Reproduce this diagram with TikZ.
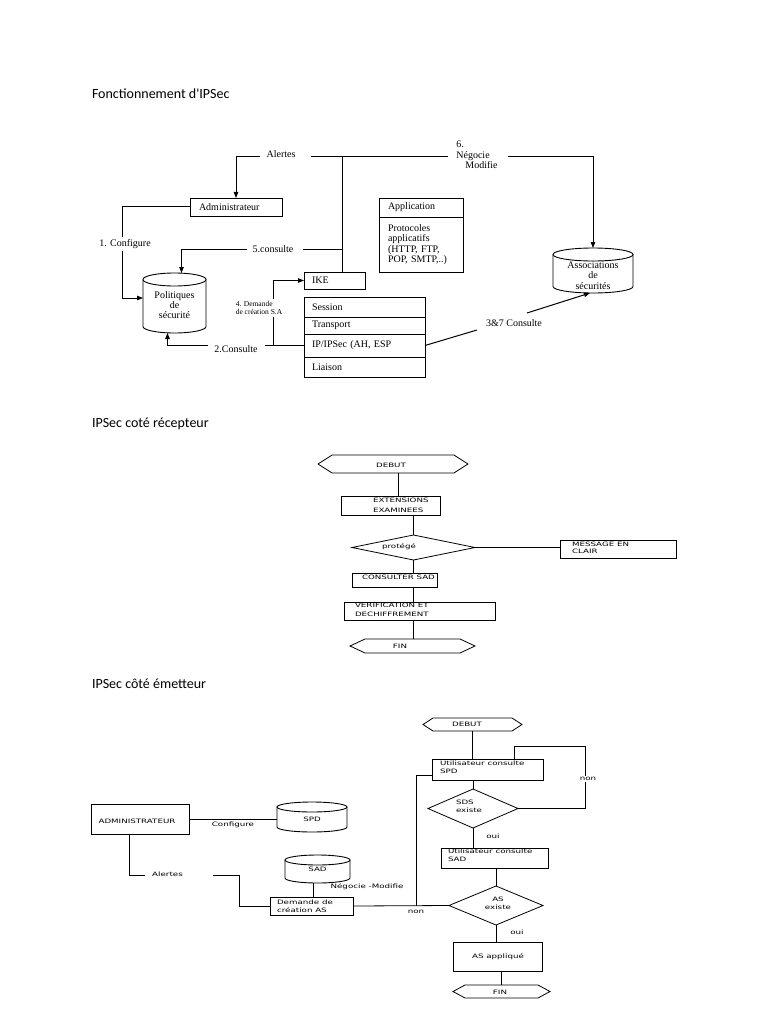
\documentclass[tikz,border=0pt]{standalone}
\usepackage{fontspec}
\setmainfont{Liberation Serif}
\newfontfamily\headfont{Carlito}
\newfontfamily\flowfont{DejaVu Sans}[FakeStretch=1.45]
\usetikzlibrary{arrows.meta,shapes.geometric,shapes.symbols,backgrounds}
\tikzset{
  every node/.style={inner sep=0pt, outer sep=0pt},
  ln/.style={line width=1pt},
  arr/.style={line width=1pt, -{Triangle[length=6pt,width=4.5pt]}},
  fln/.style={line width=0.8pt},
  cyl/.style={line width=0.9pt},
  bx/.style={draw, line width=0.9pt, anchor=north west, align=left},
  sf/.style={font=\fontsize{10}{10.3}\selectfont},
  small/.style={font=\fontsize{7.5}{8.5}\selectfont},
  lbl/.style={fill=white, inner sep=2pt},
  fl/.style={font=\flowfont\fontsize{6}{#1}\selectfont, align=left},
  fl/.default=8,
  fbox/.style={draw, line width=0.8pt, anchor=north west},
  fhex/.style={draw, line width=0.8pt, signal, signal to=west and east, anchor=center},
  fdia/.style={draw, line width=0.8pt, diamond, anchor=center},
  head/.style={font=\headfont\fontsize{14}{16}\selectfont, anchor=base west},
}
% #1 name, #2 x1, #3 y1, #4 x2, #5 y2, #6 ry, #7 text shift, #8 text style, #9 text
\newcommand\dbcyl[9]{%
  \node[anchor=north west, minimum width={(#4-#2)*1pt}, minimum height={(#5-#3)*1pt}] (#1) at (#2,#3) {};
  \node[align=center, #8] (#1-t) at ([yshift=#7]#1.center) {#9};
  \draw[cyl] (#2,#3+#6) -- (#2,#5-#6) arc[start angle=180, end angle=360, x radius={(#4-#2)/2*1pt}, y radius=#6pt] -- (#4,#3+#6);
  \draw[cyl] ({(#2+#4)/2},#3+#6) ellipse[x radius={(#4-#2)/2*1pt}, y radius=#6pt];
}
\begin{document}
\begin{tikzpicture}[x=1pt, y=-1pt]
\useasboundingbox (0,0) rectangle (768,1024);

% ---------- headings ----------
\node[head] (h1) at (92,99) {Fonctionnement d'IPSec};
\node[head] (h2) at (92,427) {IPSec coté récepteur};
\node[head] (h3) at (92,688) {IPSec côté émetteur};

% ---------- diagram 1 ----------
\node[bx, sf, minimum width=92pt, minimum height=18pt, inner xsep=9pt, text width=74pt] (admin) at (190,198) {Administrateur};
\node[bx, sf, minimum width=61pt, minimum height=17pt, inner xsep=8pt, text width=45pt] (ike) at (304,272) {IKE};
\node[bx, sf, minimum width=121pt, minimum height=20pt, inner xsep=8pt, text width=105pt] (sess) at (304,297) {Session};
\node[bx, sf, minimum width=121pt, minimum height=17pt, inner xsep=8pt, text width=105pt] (trans) at (304,317) {Transport};
\node[bx, sf, minimum width=121pt, minimum height=23pt, inner xsep=8pt, text width=105pt] (ip) at (304,334) {IP/IPSec (AH, ESP};
\node[bx, sf, minimum width=121pt, minimum height=20pt, inner xsep=8pt, text width=105pt] (liais) at (304,357) {Liaison};
\node[bx, sf, minimum width=84pt, minimum height=19pt, inner xsep=9pt, text width=66pt] (apph) at (379,198) {Application};
\node[bx, sf, minimum width=84pt, minimum height=55pt, inner xsep=9pt, text width=66pt] (appb) at (379,217) {Protocoles\\applicatifs\\(HTTP, FTP,\\POP, SMTP,..)};
\dbcyl{pol}{143}{273}{206}{333}{6.5}{-2pt}{sf}{Politiques\\de\\sécurité}
\dbcyl{assoc}{553}{248}{633}{293}{6.5}{-5pt}{sf}{Associations\\de\\sécurités}

\node[sf] (lalert) at (281,154) {Alertes};
\node[sf, lbl] (lconf) at (125,244) {1. Configure};
\node[sf] (l5) at (273,249) {5.consulte};
\node[sf] (l2) at (236,349) {2.Consulte};
\node[small, lbl, align=left] (l4) at (259,308) {4. Demande\\de création S.A};
\node[sf, align=left] (l6) at (477,155) {6.\\Négocie\\\hspace*{9pt}Modifie};
\node[sf] (l37) at (514,323) {3\&7 Consulte};

\coordinate (vx) at (342,0);
\coordinate (tA) at (236,157);
\coordinate (gA) at (260,157);
\coordinate (gB) at (311,157);
\coordinate (g6a) at (448,157);
\coordinate (g6b) at (508,157);
\coordinate (g5a) at (303,249);
\coordinate (g5b) at (247,249);
\coordinate (g2a) at (265,0);
\coordinate (g2b) at (208,0);
\coordinate (x4) at (273,0);
\coordinate (g37a) at (477,330);
\coordinate (g37b) at (527,313);

% ---------- diagram 2 ----------
\node[fhex, signal pointer angle=65, minimum width=150pt, minimum height=18pt] (deb1) at (393,464) {};
\node[fl] (tdeb1) at (391,465) {DEBUT};
\node[fbox, minimum width=99pt, minimum height=19pt] (ext) at (341,496) {};
\node[fl=10, anchor=west] (text) at (373,505.5) {EXTENSIONS\\EXAMINEES};
\node[fdia, minimum width=123pt, minimum height=25pt] (prot) at (413.5,547.5) {};
\node[fl] (tprot) at (399,547) {protégé};
\node[fbox, minimum width=116pt, minimum height=18pt] (msg) at (560,540) {};
\node[fl=7, anchor=west] (tmsg) at (572,547.5) {MESSAGE EN\\CLAIR};
\node[fbox, minimum width=85pt, minimum height=14pt] (cons) at (352,573) {};
\node[fl, anchor=west] (tcons) at (362,577.5) {CONSULTER SAD};
\node[fbox, minimum width=151pt, minimum height=18pt] (verif) at (344,602) {};
\node[fl=9, anchor=west] (tverif) at (355,609.5) {VERIFICATION ET\\DECHIFFREMENT};
\node[fhex, signal pointer angle=50, minimum width=125pt, minimum height=14pt] (fin1) at (412.5,646) {};
\node[fl] (tfin1) at (400,646) {FIN};
\coordinate (m1) at (398,0);

% ---------- diagram 3 ----------
\node[fhex, signal pointer angle=66, minimum width=99pt, minimum height=13pt] (deb2) at (472.5,724.5) {};
\node[fl] (tdeb2) at (467,724.5) {DEBUT};
\node[fbox, minimum width=111pt, minimum height=21pt] (ucspd) at (432,759) {};
\node[fl=8.5, anchor=west] (tucspd) at (440,767.5) {Utilisateur consulte\\SPD};
\node[fdia, minimum width=90pt, minimum height=39pt] (sds) at (473,808.5) {};
\node[fl=7.5, anchor=west] (tsds) at (456,806.5) {SDS\\existe};
\node[fbox, minimum width=107pt, minimum height=20pt] (ucsad) at (441,848) {};
\node[fl, anchor=west] (tucsad) at (448,855) {Utilisateur consulte\\SAD};
\node[fdia, minimum width=94pt, minimum height=39pt] (asx) at (496,905.5) {};
\node[fl, align=center] (tasx) at (498,903) {AS\\existe};
\node[fbox, minimum width=89pt, minimum height=29pt] (asap) at (453,942) {};
\node[fl] (tasap) at (498,957) {AS appliqué};
\node[fhex, signal pointer angle=57, minimum width=97pt, minimum height=13pt] (fin2) at (501.5,991.5) {};
\node[fl] (tfin2) at (500,992) {FIN};
\node[fbox, minimum width=98pt, minimum height=30pt] (admin2) at (91,804) {};
\node[fl] (tadmin2) at (137,821) {ADMINISTRATEUR};
\dbcyl{spd}{277}{802}{347}{832}{5}{-2pt}{fl}{SPD}
\dbcyl{sad}{285}{855}{350}{883}{5}{0pt}{fl}{SAD}
\node[fbox, minimum width=83pt, minimum height=18pt] (dem) at (270,897) {};
\node[fl, anchor=west] (tdem) at (277,906) {Demande de\\création AS};
\node[fl] (lconf2) at (233,825) {Configure};
\node[fl] (lneg) at (367,887) {Négocie -Modifie};
\node[fl] (lal2) at (167.5,874) {Alertes};
\node[fl, fill=white, inner sep=1.5pt] (lnon1) at (588,779) {non};
\node[fl] (loui1) at (493,836) {oui};
\node[fl] (lnon2) at (416,912) {non};
\node[fl] (loui2) at (517,932) {oui};
\coordinate (n1) at (585,746);
\coordinate (n2) at (514,746);
\coordinate (l1) at (416,0);
\coordinate (a1) at (129,875);
\coordinate (ga1) at (145,875);
\coordinate (ga2) at (213,875);
\coordinate (a2) at (239,875);
\coordinate (x313) at (313,0);

\begin{scope}[on background layer]
  % diagram 1 connectors
  \draw[ln] (ike.north -| vx) |- (gB);
  \draw[arr] (gA) -- (tA) -- (admin.north);
  \draw[ln] (ike.north -| vx) |- (g6a);
  \draw[arr] (g6b) -| (assoc.north);
  \draw[ln] (vx |- g5a) -- (g5a);
  \draw[arr] (g5b) -| ([xshift=7pt]pol.north);
  \draw[arr] (admin.west) -- ++(-68,0) |- ([yshift=5pt]pol.west);
  \draw[ln] (ip.west) -- (ip.west -| g2a);
  \draw[arr] (ip.west -| g2b) -| ([xshift=-7pt]pol.south);
  \draw[arr] (ip.west -| x4) |- (ike.west);
  \draw[ln] (ip.east) -- (g37a);
  \draw[arr] (g37b) -- ([xshift=-3pt]assoc.south);
  % diagram 2 connectors
  \draw[fln] (deb1.south -| m1) -- (ext.north -| m1);
  \draw[fln] (ext.south -| prot.north) -- (prot.north);
  \draw[fln] (prot.east) -- (prot.east -| msg.west);
  \draw[fln] (prot.south) -- (prot.south |- cons.north);
  \draw[fln] (cons.south -| prot.south) -- (verif.north -| prot.south);
  \draw[fln] (verif.south -| prot.south) -- (fin1.north -| prot.south);
  % diagram 3 connectors
  \draw[fln] (deb2.south) -- (deb2.south |- ucspd.north);
  \draw[fln] (ucspd.south -| sds.north) -- (sds.north);
  \draw[fln] (sds.south) -- (sds.south |- ucsad.north);
  \draw[fln] (asx.north |- ucsad.south) -- (asx.north);
  \draw[fln] (asx.south) -- (asx.south |- asap.north);
  \draw[fln] (fin2.north |- asap.south) -- (fin2.north);
  \draw[fln] (sds.east) -| (n1) -- (n2) -- (n2 |- ucspd.north);
  \draw[fln] ([yshift=-6pt]ucspd.west) -| (l1 |- dem.east);
  \draw[fln] (dem.east) -- (asx.west);
  \draw[fln] (admin2.east) -- (admin2.east -| spd.west);
  \draw[fln] (admin2.south -| a1) -- (a1) -- (ga1);
  \draw[fln] (ga2) -- (a2) |- (dem.west);
  \draw[fln] (sad.south -| x313) -- (dem.north -| x313);
\end{scope}
\end{tikzpicture}
\end{document}
